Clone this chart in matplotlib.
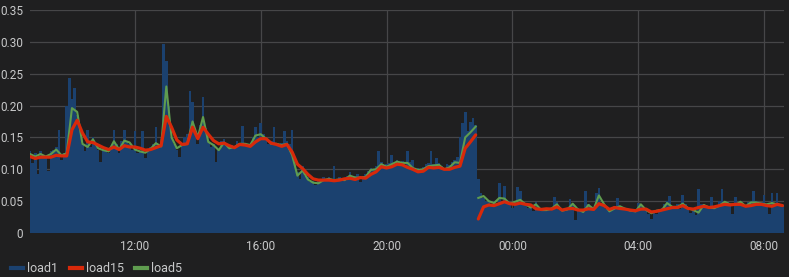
import matplotlib
matplotlib.use('Agg')
import matplotlib.pyplot as plt
import matplotlib.dates as mdates
from matplotlib.lines import Line2D
from datetime import datetime, timedelta

# ---- data -------------------------------------------------------------
load1_start = datetime(2024, 1, 1, 8, 40)   # 5-minute samples
load1 = [
    .128, .110, .125, .092, .128, .120, .118, .098, .128, .130,
    .135, .162, .115, .125, .200, .243, .210, .227, .185, .165,
    .140, .128, .162, .135, .150, .140, .130, .112, .135, .128,
    .125, .135, .162, .140, .125, .145, .161, .145, .140, .130,
    .160, .125, .128, .160, .118, .130, .135, .140, .166, .135,
    .140, .296, .270, .200, .150, .140, .130, .120, .140, .150,
    .155, .223, .205, .160, .140, .170, .213, .165, .145, .135,
    .140, .112, .130, .145, .148, .140, .132, .138, .135, .145,
    .140, .168, .142, .138, .140, .150, .166, .150, .172, .155,
    .150, .140, .145, .166, .138, .140, .142, .160, .145, .140,
    .161, .120, .095, .085, .105, .090, .088, .080, .082, .076,
    .083, .080, .088, .085, .088, .082, .105, .085, .088, .082,
    .086, .090, .095, .088, .090, .092, .080, .090, .092, .098,
    .102, .100, .105, .128, .112, .100, .108, .110, .122, .110,
    .115, .112, .113, .105, .128, .112, .115, .098, .102, .100,
    .104, .108, .110, .128, .108, .117, .110, .105, .102, .108,
    .107, .112, .115, .120, .150, .172, .190, .160, .175, .180, .170,
    .085, .062, .055, .050, .048, .045, .050, .047, .079, .050,
    .073, .050, .045, .040, .050, .072, .066, .048, .045, .040,
    .042, .035, .048, .040, .037, .035, .038, .036, .040, .057,
    .048, .036, .034, .038, .040, .054, .045, .020, .040, .036,
    .038, .066, .045, .038, .040, .062, .070, .045, .043, .038,
    .035, .040, .042, .055, .043, .038, .040, .036, .035, .038,
    .036, .047, .046, .036, .038, .030, .022, .034, .030, .038,
    .040, .045, .050, .058, .042, .040, .045, .038, .060, .045,
    .040, .032, .038, .028, .069, .045, .046, .040, .042, .057,
    .040, .044, .050, .069, .050, .048, .045, .030, .057, .046,
    .050, .044, .042, .048, .050, .066, .050, .046, .048, .059,
    .045, .030, .063, .046, .062, .045, .044,
]

# 10-minute samples, two segments (gap around 22:50)
seg1_start = datetime(2024, 1, 1, 8, 40)
seg2_start = datetime(2024, 1, 1, 22, 55)

load15_a = [
    .120, .117, .119, .119, .119, .122, .121, .121, .162, .177,
    .157, .143, .142, .138, .134, .131, .135, .131, .137, .135,
    .135, .133, .130, .131, .134, .137, .183, .166, .146, .139,
    .140, .166, .148, .166, .155, .145, .140, .141, .137, .134,
    .139, .138, .136, .143, .148, .148, .141, .139, .136, .139,
    .127, .108, .101, .092, .085, .083, .083, .083, .082, .083,
    .085, .086, .084, .087, .086, .092, .096, .104, .102, .104,
    .108, .107, .103, .100, .096, .097, .103, .102, .103, .100,
    .100, .103, .105, .133, .143, .154,
]
load5_a = [
    .124, .120, .124, .120, .124, .131, .122, .125, .196, .190,
    .140, .135, .147, .133, .130, .128, .144, .131, .145, .142,
    .131, .128, .126, .132, .141, .136, .230, .150, .133, .138,
    .140, .175, .150, .182, .143, .138, .130, .142, .133, .135,
    .140, .140, .138, .153, .155, .148, .140, .140, .138, .140,
    .122, .090, .098, .084, .079, .078, .083, .085, .083, .084,
    .083, .090, .087, .087, .088, .099, .100, .108, .104, .108,
    .112, .110, .110, .102, .099, .100, .105, .106, .107, .100,
    .103, .111, .110, .150, .158, .167,
]
load15_b = [
    .022, .041, .044, .043, .046, .049, .046, .045, .047, .045,
    .044, .038, .037, .038, .0375, .041, .036, .038, .0385, .036,
    .036, .038, .037, .046, .043, .037, .040, .0385, .0375, .036,
    .035, .0375, .0375, .033, .034, .036, .038, .040, .040, .043,
    .0385, .0375, .040, .042, .040, .041, .043, .045, .044, .045,
    .045, .042, .043, .045, .045, .043, .042, .045, .043,
]
load5_b = [
    .055, .058, .050, .047, .055, .054, .046, .049, .052, .045,
    .040, .045, .036, .036, .0385, .045, .035, .037, .046, .037,
    .033, .044, .0375, .059, .045, .034, .0385, .042, .038, .035,
    .034, .045, .036, .031, .035, .036, .047, .041, .041, .046,
    .039, .036, .032, .044, .040, .039, .043, .049, .045, .044,
    .049, .042, .048, .048, .046, .045, .047, .045, .043,
]

y_ticks = [0, 0.05, 0.10, 0.15, 0.20, 0.25, 0.30, 0.35]
y_labels = ["0", "0.05", "0.10", "0.15", "0.20", "0.25", "0.30", "0.35"]
series_names = ["load1", "load15", "load5"]

# ---- style ------------------------------------------------------------
BG = "#1f1f20"
GRID = "#464648"
TXT = "#c8c9ca"
C_BLUE = "#1b416f"
C_RED = "#d8290a"
C_GREEN = "#5f9c4f"

plt.rcParams['font.family'] = ['Roboto', 'DejaVu Sans']

fig = plt.figure(figsize=(7.89, 2.77), dpi=100, facecolor=BG)
ax = fig.add_axes([30 / 789, 44 / 277, 754 / 789, 223 / 277], facecolor=BG)

t1 = [load1_start + timedelta(minutes=5 * i) for i in range(len(load1))]
ta = [seg1_start + timedelta(minutes=10 * i) for i in range(len(load15_a))]
tb = [seg2_start + timedelta(minutes=10 * i) for i in range(len(load15_b))]

ax.bar(t1, load1, width=5 / 1440, color=C_BLUE, linewidth=0, align='center', zorder=2)
ax.plot(ta, load5_a, color=C_GREEN, lw=1.5, zorder=3, solid_joinstyle='round')
ax.plot(tb, load5_b, color=C_GREEN, lw=1.5, zorder=3, solid_joinstyle='round')
ax.plot(ta, load15_a, color=C_RED, lw=2.3, zorder=4, solid_joinstyle='round', solid_capstyle='round')
ax.plot(tb, load15_b, color=C_RED, lw=2.3, zorder=4, solid_joinstyle='round', solid_capstyle='round')

ax.set_xlim(datetime(2024, 1, 1, 8, 40), datetime(2024, 1, 2, 8, 38))
ax.set_ylim(0, 0.35)
ax.set_yticks(y_ticks)
ax.set_yticklabels(y_labels)
ax.xaxis.set_major_locator(mdates.HourLocator(byhour=[0, 4, 8, 12, 16, 20]))
ax.xaxis.set_major_formatter(mdates.DateFormatter('%H:%M'))

ax.grid(True, color=GRID, lw=0.9, zorder=1)
ax.set_axisbelow(True)
for s in ax.spines.values():
    s.set_visible(False)
ax.tick_params(axis='both', length=0, colors=TXT, labelsize=8.5)
ax.tick_params(axis='y', pad=5)
ax.tick_params(axis='x', pad=5)

handles = [Line2D([0], [0], color=c, lw=3) for c in (C_BLUE, C_RED, C_GREEN)]
leg = fig.legend(handles, series_names, loc='lower left', bbox_to_anchor=(0.0, -0.035),
                 ncol=3, frameon=False, handlelength=0.95, handletextpad=0.35,
                 columnspacing=0.9, fontsize=9, labelcolor=TXT)

fig.savefig('out.png', dpi=100, facecolor=BG)
